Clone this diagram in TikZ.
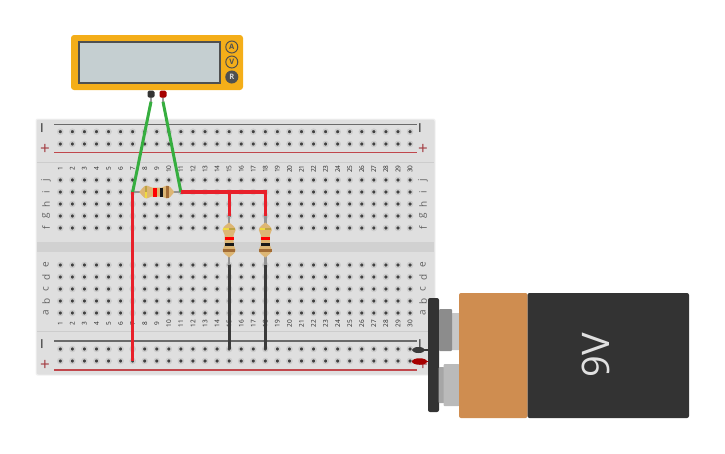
\documentclass[tikz,border=0pt]{standalone}
\usepackage{fontspec}
\setmainfont{Open Sans}
\usetikzlibrary{shapes.geometric}
\definecolor{boardfill}{HTML}{DFDFDF}
\definecolor{boardline}{HTML}{CDCDCD}
\definecolor{railred}{HTML}{C0474C}
\definecolor{railgrey}{HTML}{6A6A6A}
\definecolor{wirered}{HTML}{E8202A}
\definecolor{wiregreen}{HTML}{36AE3F}
\definecolor{wireblack}{HTML}{3A3A3A}
\definecolor{meterorange}{HTML}{F4AE19}
\definecolor{meterscreen}{HTML}{C5CFD1}
\definecolor{meterdark}{HTML}{4F5050}
\definecolor{batorange}{HTML}{CF8D50}
\definecolor{batdark}{HTML}{333333}
\definecolor{restan}{HTML}{DDB674}
\begin{document}
\begin{tikzpicture}[
        x=1pt, y=-1pt,
        hole/.style={circle, fill=black!75, draw=black!20, line width=1.5pt, minimum size=5pt, inner sep=0pt},
        numlabel/.style={rotate=90, font=\fontsize{6.5}{7}\selectfont, text=black!85, inner sep=0pt},
        letlabel/.style={rotate=90, font=\fontsize{10}{11}\selectfont, text=black!62, inner sep=0pt},
        minuslabel/.style={rotate=90, font=\fontsize{19}{19}\selectfont, text=black!75, inner sep=0pt},
        pluslabel/.style={font=\fontsize{17}{17}\selectfont, text=railred!85!black, inner sep=0pt},
        rail/.style={line width=1.8pt},
        redwire/.style={draw=wirered, line width=3.2pt},
        greenwire/.style={draw=wiregreen, line width=3pt},
        blackwire/.style={draw=wireblack, line width=3pt},
        lead/.style={draw=black!42, line width=2.6pt},
        metkey/.style={circle, draw=meterdark, line width=1pt, minimum size=12pt, inner sep=0pt, font=\fontsize{7.5}{8}\selectfont\bfseries, text=meterdark},
        probe/.style={rectangle, rounded corners=1.5pt, minimum width=7pt, minimum height=7pt, inner sep=0pt},
        tip/.style={rectangle, fill=black!40, minimum width=2.6pt, minimum height=5pt, inner sep=0pt},
        grey/.style={rectangle, rounded corners=1pt, inner sep=0pt},
        resistor/.pic={
            \fill[restan] (-17.5,0) .. controls (-15,-3) and (-13,-6.5) .. (-10,-6.5) .. controls (-8,-6.5) and (-7,-4.5) .. (-5,-4.5) -- (5,-4.5) .. controls (7,-4.5) and (8,-6.5) .. (10,-6.5) .. controls (13,-6.5) and (15,-3) .. (17.5,0) .. controls (15,3) and (13,6.5) .. (10,6.5) .. controls (8,6.5) and (7,4.5) .. (5,4.5) -- (-5,4.5) .. controls (-7,4.5) and (-8,6.5) .. (-10,6.5) .. controls (-13,6.5) and (-15,3) .. (-17.5,0) -- cycle;
            \fill[olive!45!restan!80!brown] (-12,-5.8) rectangle (-9.8,0);
            \fill[yellow!55!restan] (-12,0) rectangle (-9.8,5.8);
            \fill[red] (-3.4,-4.5) rectangle (0,4.5);
            \fill[black!90] (3.4,-4.5) rectangle (6.4,4.5);
            \fill[brown!85!black] (9.4,-6.2) rectangle (12.4,6.2);
        }
    ]
        \useasboundingbox (0,0) rectangle (725,453);

        % Breadboard
        \fill[black!6, rounded corners=2pt] (35.5,118.5) rectangle (435.5,375.5);
        \node[rectangle, fill=boardfill, rounded corners=2pt, minimum width=398pt, minimum height=255pt, inner sep=0pt] (board) at (235.5,247) {};
        \fill[black!18] (37,242) rectangle (434,252);
        \draw[boardline] (37,162.5) -- (434,162.5);
        \draw[boardline] (37,331.5) -- (434,331.5);

        % Rails
        \draw[rail, railgrey] (54,124.5) -- (417,124.5);
        \draw[rail, railred] (54,152.5) -- (417,152.5);
        \draw[rail, railgrey] (54,341) -- (417,341);
        \draw[rail, railred] (54,370) -- (417,370);
        \foreach \xpos in {45,423} {
            \node[minuslabel] at (\xpos,128) {−};
            \node[pluslabel] at (\xpos,149) {+};
            \node[minuslabel] at (\xpos,344) {−};
            \node[pluslabel] at (\xpos,365) {+};
        }

        % Holes
        \foreach \rowname/\ypos in {tm/131.7,tp/144,j/180,i/192,h/204,g/216,f/228,e/265,d/277,c/289,b/301,a/313,bm/349,bp/361} {
            \foreach \col in {1,...,30} {
                \pgfmathsetmacro{\xpos}{60.3+12.06*(\col-1)}
                \node[hole] (\rowname\col) at (\xpos,\ypos) {};
            }
        }

        % Column and row labels
        \foreach \col in {1,...,30} {
            \pgfmathsetmacro{\xpos}{60.3+12.06*(\col-1)}
            \node[numlabel] at (\xpos,169) {\col};
            \node[numlabel] at (\xpos,323.5) {\col};
        }
        \foreach \rowname/\ypos in {j/180,i/192,h/204,g/216,f/228,e/265,d/277,c/289,b/301,a/313} {
            \node[letlabel] at (46,\ypos) {\rowname};
            \node[letlabel] at (423,\ypos) {\rowname};
        }

        % Multimeter
        \node[rectangle, fill=meterorange, rounded corners=3pt, minimum width=172pt, minimum height=55pt, inner sep=0pt] (meter) at (157,62.5) {};
        \node[rectangle, fill=meterscreen, draw=meterdark, line width=1.8pt, minimum width=141pt, minimum height=41.5pt, inner sep=0pt] (screen) at (149.5,62.5) {};
        \node[metkey] (keyA) at (231.8,47) {A};
        \node[metkey] (keyV) at (231.8,62) {V};
        \node[metkey, fill=meterdark, text=white!85!black] (keyR) at (231.8,77) {R};
        \node[tip] (tipneg) at (151,99) {};
        \node[tip] (tippos) at (163,99) {};
        \node[probe, fill=black!80] (probeneg) at (151,94) {};
        \node[probe, fill=red!65!black] (probepos) at (163,94) {};

        % Resistors
        \draw[lead] (i7.center) -- (i11.center);
        \draw[lead] (g15.center) -- (e15.center);
        \draw[lead] (g18.center) -- (e18.center);
        \pic at (156.8,192) {resistor};
        \pic[rotate=-90] at (229.1,240) {resistor};
        \pic[rotate=-90] at (265.3,240) {resistor};

        % Wires
        \draw[greenwire] (tipneg.south) -- (i7.center);
        \draw[greenwire] (tippos.south) -- (i11.center);
        \draw[redwire] (i7.center) -- (bp7.center);
        \draw[redwire] (i11.center) -- (i18.center) -- (g18.center);
        \draw[redwire] (i15.center) -- (g15.center);
        \draw[blackwire] (e15.center) -- (bm15.center);
        \draw[blackwire] (e18.center) -- (bm18.center);

        % Battery
        \node[ellipse, fill=wireblack, minimum width=13pt, minimum height=6pt, inner sep=0pt] (clipneg) at (418.5,350) {};
        \node[ellipse, fill=red!65!black, minimum width=15pt, minimum height=6.5pt, inner sep=0pt] (clippos) at (419.5,361.5) {};
        \node[rectangle, fill=batdark, rounded corners=2pt, minimum width=11pt, minimum height=114pt, inner sep=0pt] (clipbar) at (433.5,355) {};
        \draw[wireblack, line width=1.4pt] (clipneg.center) -- (clipbar.west |- clipneg);
        \draw[red!65!black, line width=1.6pt] (clippos.center) -- (clipbar.west |- clippos);
        \node[grey, fill=black!22, minimum width=8pt, minimum height=37pt] (negouter) at (455.5,331.5) {};
        \node[grey, fill=black!45, minimum width=13pt, minimum height=42pt] (negpost) at (445.5,330) {};
        \node[grey, fill=black!35, minimum width=6pt, minimum height=36pt] (posinner) at (441.5,385) {};
        \node[grey, fill=black!27, minimum width=16pt, minimum height=42pt] (pospost) at (451.5,385) {};
        \fill[batorange, rounded corners=2pt] (459,293) -- (527.5,293) -- (527.5,418) -- (459,418) -- cycle;
        \fill[batdark, rounded corners=2pt] (527.5,293) -- (689,293) -- (689,418) -- (527.5,418) -- cycle;
        \node[rotate=90, font=\fontsize{38}{38}\selectfont, text=black!12, inner sep=0pt] (batlabel) at (595.5,355.5) {9V};
    \end{tikzpicture}
\end{document}
